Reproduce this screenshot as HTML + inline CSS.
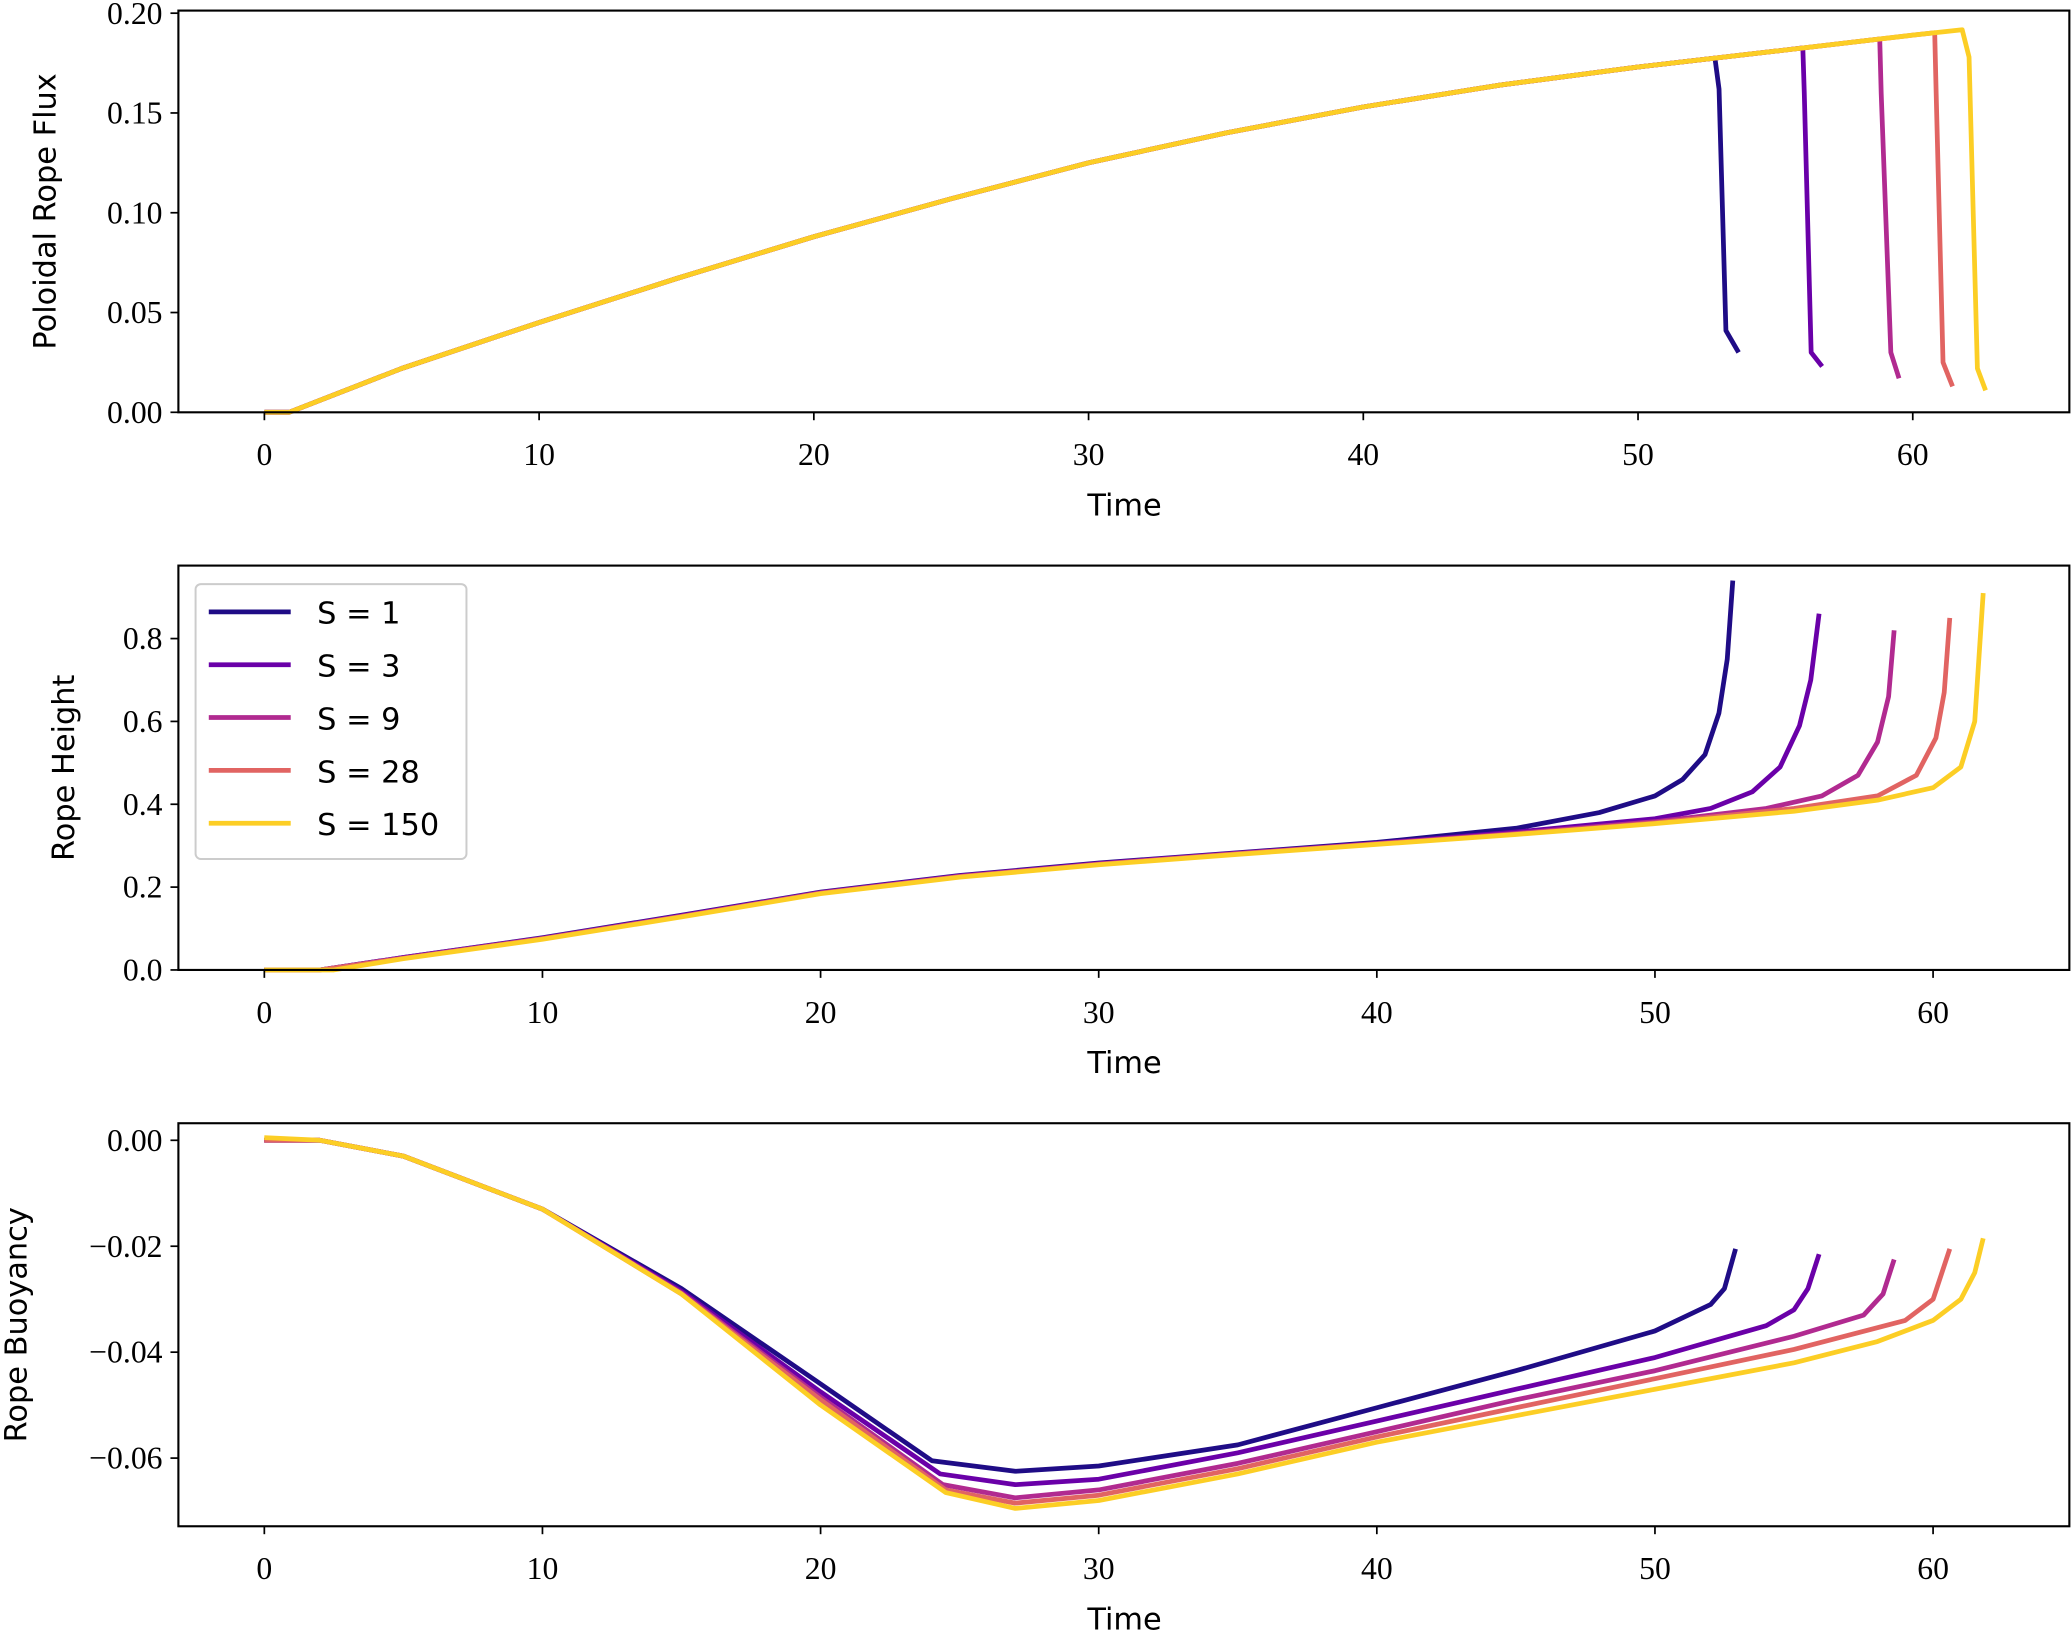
<!DOCTYPE html>
<html><head><meta charset="utf-8"><style>
html,body{margin:0;padding:0;background:#fff}
svg{display:block}
.tk{font-family:"Liberation Serif",serif;font-size:24px;fill:#000}
.lb{font-family:"DejaVu Sans","Liberation Sans",sans-serif;font-size:23px;fill:#000}
</style></head><body>
<svg id="fig" width="2072" height="1632" viewBox="0 0 1568 1235" xmlns="http://www.w3.org/2000/svg"></svg>
<script>
const labels=["S = 1","S = 3","S = 9","S = 28","S = 150"];
const colors=["#1f0c86","#6a00a8","#b12a90","#e16462","#fcce25"];
const fluxT=[0,0.9,5,10,15,20,25,30,35,40,45,50,55,60,62];
const fluxV=[0,0,0.022,0.045,0.067,0.088,0.107,0.125,0.140,0.153,0.164,0.173,0.181,0.189,0.192];
const dropT0=[52.8,56.0,58.8,60.8,61.8];
const dropT1=[52.95,56.05,58.85,60.85,62.05];
const dropV1=[0.162,0.160,0.160,0.160,0.178];
const dropT2=[53.2,56.3,59.2,61.1,62.35];
const dropV2=[0.041,0.030,0.030,0.025,0.022];
const dropT3=[53.66,56.7,59.5,61.45,62.65];
const dropV3=[0.030,0.023,0.017,0.013,0.011];
const hSeries=[
 [[0,0],[2,0],[5,0.03],[10,0.078],[15,0.132],[20,0.188],[25,0.228],[30,0.258],[35,0.283],[40,0.308],[45,0.342],[48,0.38],[50,0.42],[51,0.46],[51.8,0.52],[52.3,0.62],[52.6,0.75],[52.8,0.94]],
 [[0,0],[2,0],[5,0.03],[10,0.077],[15,0.131],[20,0.187],[25,0.227],[30,0.257],[35,0.282],[40,0.306],[45,0.333],[50,0.365],[52,0.39],[53.5,0.43],[54.5,0.49],[55.2,0.59],[55.6,0.70],[55.9,0.86]],
 [[0,0],[2,0],[5,0.029],[10,0.076],[15,0.13],[20,0.186],[25,0.226],[30,0.256],[35,0.281],[40,0.305],[45,0.33],[50,0.358],[54,0.39],[56,0.42],[57.3,0.47],[58,0.55],[58.4,0.66],[58.6,0.82]],
 [[0,0],[2,0],[5,0.028],[10,0.075],[15,0.129],[20,0.185],[25,0.225],[30,0.255],[35,0.28],[40,0.304],[45,0.328],[50,0.355],[55,0.39],[58,0.42],[59.4,0.47],[60.1,0.56],[60.4,0.67],[60.6,0.85]],
 [[0,0],[2.5,0],[5,0.027],[10,0.074],[15,0.128],[20,0.184],[25,0.224],[30,0.254],[35,0.279],[40,0.303],[45,0.327],[50,0.353],[55,0.383],[58,0.41],[60,0.44],[61,0.49],[61.5,0.6],[61.8,0.91]]
];
const bSeries=[
 [[0,0],[2,0],[5,-0.003],[10,-0.013],[15,-0.028],[20,-0.046],[24,-0.0605],[27,-0.0625],[30,-0.0615],[35,-0.0575],[40,-0.0505],[45,-0.0435],[50,-0.036],[52,-0.031],[52.5,-0.028],[52.9,-0.0205]],
 [[0,0],[2,0],[5,-0.003],[10,-0.013],[15,-0.0285],[20,-0.0475],[24.3,-0.063],[27,-0.065],[30,-0.064],[35,-0.059],[40,-0.053],[45,-0.047],[50,-0.041],[54,-0.035],[55,-0.032],[55.5,-0.028],[55.9,-0.0215]],
 [[0,0],[2,0],[5,-0.003],[10,-0.013],[15,-0.0288],[20,-0.0485],[24.4,-0.065],[27,-0.0675],[30,-0.066],[35,-0.061],[40,-0.055],[45,-0.049],[50,-0.0435],[55,-0.037],[57.5,-0.033],[58.2,-0.029],[58.6,-0.0225]],
 [[0,0],[2,0],[5,-0.003],[10,-0.013],[15,-0.029],[20,-0.049],[24.5,-0.066],[27,-0.0685],[30,-0.067],[35,-0.062],[40,-0.056],[45,-0.0505],[50,-0.045],[55,-0.0395],[59,-0.034],[60,-0.03],[60.6,-0.0205]],
 [[0,0.0005],[2,0],[5,-0.003],[10,-0.013],[15,-0.029],[20,-0.05],[24.5,-0.0665],[27,-0.0695],[30,-0.068],[35,-0.063],[40,-0.057],[45,-0.052],[50,-0.047],[55,-0.042],[58,-0.038],[60,-0.034],[61,-0.03],[61.5,-0.025],[61.8,-0.0185]]
];
const xTicks=[0,10,20,30,40,50,60];
const yTicks1=[0,0.05,0.10,0.15,0.20];
const yTicks2=[0,0.2,0.4,0.6,0.8];
const yTicks3=[0,-0.02,-0.04,-0.06];

const NS="http://www.w3.org/2000/svg";
const svg=document.getElementById('fig');
function mk(tag,attrs,parent){const e=document.createElementNS(NS,tag);for(const k in attrs)e.setAttribute(k,attrs[k]);(parent||svg).appendChild(e);return e;}
const fmt=(v,d)=>{const s=Math.abs(v).toFixed(d);return (v<0?"\u2212":"")+s;};

function panel(name,top,bot,xmin,xmax,ymin,ymax,yt,yd,ylabel,ylx){
 const L=135,R=1566;
 const sx=t=>L+(t-xmin)/(xmax-xmin)*(R-L);
 const sy=v=>bot-(v-ymin)/(ymax-ymin)*(bot-top);
 const g=mk('g',{});
 
 
 const lines=mk('g',{},g);
 
 
 const frame=mk('rect',{x:L,y:top,width:R-L,height:bot-top,fill:'none',stroke:'#000','stroke-width':1.6},g);
 
 
 xTicks.forEach(t=>{
  const x=sx(t);
  mk('line',{x1:x,x2:x,y1:bot,y2:bot+6,stroke:'#000','stroke-width':1.3},g);
  const tx=mk('text',{x:x,y:bot+40,'text-anchor':'middle',class:'tk'},g);tx.textContent=t;
  
  
 });
 yt.forEach(v=>{
  const y=sy(v);
  mk('line',{x1:L-6,x2:L,y1:y,y2:y,stroke:'#000','stroke-width':1.3},g);
  const tx=mk('text',{x:L-12,y:y+8,'text-anchor':'end',class:'tk'},g);tx.textContent=fmt(v,yd);
  
  
 });
 const xl=mk('text',{x:851,y:bot+78,'text-anchor':'middle',class:'lb'},g);xl.textContent='Time';
 
 
 const cy=(top+bot)/2;
 const yl=mk('text',{x:ylx,y:cy,'text-anchor':'middle',class:'lb',transform:`rotate(-90 ${ylx} ${cy})`},g);yl.textContent=ylabel;
 
 
 return {sx,sy,lines};
}
function draw(p,pts,i,name){
 const d=pts.map(q=>p.sx(q[0]).toFixed(1)+','+p.sy(q[1]).toFixed(1)).join(' ');
 const pl=mk('polyline',{points:d,fill:'none',stroke:colors[i],'stroke-width':3.6,'stroke-linejoin':'round'},p.lines);
 
 
}
const p1=panel('flux',8,312,-3.13,65.7,0,0.2013,yTicks1,2,'Poloidal Rope Flux',42);
function fluxAt(t){for(let k=1;k<fluxT.length;k++){if(t<=fluxT[k]){const a=(t-fluxT[k-1])/(fluxT[k]-fluxT[k-1]);return fluxV[k-1]+a*(fluxV[k]-fluxV[k-1]);}}return fluxV[fluxV.length-1];}
for(let i=0;i<5;i++){
 const pts=[];
 for(let k=0;k<fluxT.length&&fluxT[k]<dropT0[i];k++)pts.push([fluxT[k],fluxV[k]]);
 pts.push([dropT0[i],fluxAt(dropT0[i])]);
 pts.push([dropT1[i],dropV1[i]]);
 pts.push([dropT2[i],dropV2[i]]);
 pts.push([dropT3[i],dropV3[i]]);
 draw(p1,pts,i,'flux-line-s'+labels[i].split(' ')[2]);
}
const p2=panel('height',428,734,-3.09,64.9,0,0.9762,yTicks2,1,'Rope Height',56);
hSeries.forEach((s,i)=>draw(p2,s,i,'height-line-s'+labels[i].split(' ')[2]));
const p3=panel('buoyancy',850,1155,-3.09,64.9,-0.07287,0.00322,yTicks3,2,'Rope Buoyancy',20);
bSeries.forEach((s,i)=>draw(p3,s,i,'buoyancy-line-s'+labels[i].split(' ')[2]));
const lg=mk('g',{});


mk('rect',{x:148,y:442,width:205,height:208,rx:4,fill:'#fff',stroke:'#ccc','stroke-width':1.5,'fill-opacity':0.85},lg);
labels.forEach((lab,i)=>{
 const y=463+i*40;
 const e=mk('g',{},lg);
 
 
 mk('line',{x1:158,x2:220,y1:y,y2:y,stroke:colors[i],'stroke-width':3.6},e);
 const t=mk('text',{x:240,y:y+9,class:'lb'},e);t.textContent=lab;
});
</script>
</body></html>
